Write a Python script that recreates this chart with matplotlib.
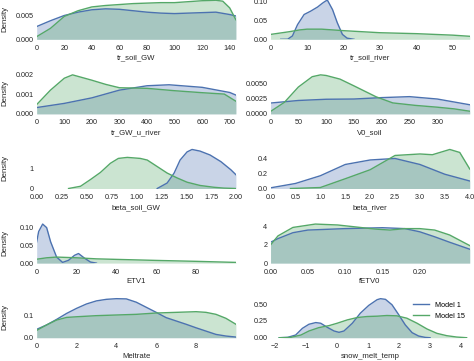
"""Kernel density comparison of calibrated parameters, Model 1 vs Model 15."""

import matplotlib
matplotlib.use("Agg")
import matplotlib.pyplot as plt
from matplotlib.ticker import FixedLocator

# ----------------------------------------------------------------------
# Data (densities)
# ----------------------------------------------------------------------

MODEL_LABELS = ["Model 1", "Model 15"]

# tr_soil_GW
tr_soil_gw_x1 = [0, 10, 20, 30, 40, 50, 60, 70, 80, 90, 100, 110, 120, 130, 140, 144.5]
tr_soil_gw_y1 = [0.00268, 0.0039, 0.0050, 0.0057, 0.0062, 0.0064, 0.0063, 0.0060,
                 0.0057, 0.0055, 0.0054, 0.0055, 0.0056, 0.0057, 0.0052, 0.0049]
tr_soil_gw_x2 = [0, 10, 20, 30, 40, 50, 60, 70, 80, 90, 100, 110, 120, 130, 135, 140, 144.5]
tr_soil_gw_y2 = [0.00056, 0.0023, 0.0048, 0.0060, 0.0068, 0.0071, 0.0073, 0.0075,
                 0.0076, 0.0077, 0.0077, 0.0079, 0.0081, 0.0082, 0.0080, 0.0066, 0.0041]

# tr_soil_river
tr_soil_river_x1 = [2.8, 4.7, 6.0, 7.4, 9.2, 11.0, 12.9, 14.2, 15.1, 15.6, 17.0, 18.3,
                    19.7, 21.0, 22.9]
tr_soil_river_y1 = [0.0, 0.0002, 0.009, 0.039, 0.066, 0.075, 0.086, 0.096, 0.102,
                    0.104, 0.079, 0.044, 0.013, 0.003, 0.0]
tr_soil_river_x2 = [0, 5, 8, 10, 14, 20, 30, 40, 50, 54.6]
tr_soil_river_y2 = [0.013, 0.020, 0.025, 0.027, 0.027, 0.023, 0.0175, 0.015, 0.011, 0.008]

# tr_GW_u_river
tr_gw_u_river_x1 = [0, 100, 200, 300, 400, 480, 600, 700, 722]
tr_gw_u_river_y1 = [0.00032, 0.00053, 0.00081, 0.0012, 0.00142, 0.00147, 0.00134,
                    0.00108, 0.00095]
tr_gw_u_river_x2 = [0, 50, 100, 130, 200, 250, 300, 400, 500, 600, 680, 722]
tr_gw_u_river_y2 = [0.00047, 0.0012, 0.0018, 0.00197, 0.0017, 0.00149, 0.00132,
                    0.00129, 0.00117, 0.00107, 0.0010, 0.00064]

# V0_soil
v0_soil_x1 = [0, 50, 100, 150, 200, 250, 300, 358.4]
v0_soil_y1 = [0.00178, 0.0022, 0.0024, 0.00244, 0.00267, 0.00283, 0.00244, 0.0015]
v0_soil_x2 = [0, 25, 50, 75, 90, 100, 125, 150, 190, 220, 260, 300, 330, 358.4]
v0_soil_y2 = [0.0004, 0.0019, 0.0044, 0.0061, 0.0064, 0.0063, 0.0057, 0.0046,
              0.0028, 0.0018, 0.0014, 0.0011, 0.00083, 0.00044]

# beta_soil_GW
beta_soil_gw_x1 = [1.21, 1.31, 1.38, 1.44, 1.51, 1.56, 1.64, 1.74, 1.85, 1.95, 2.0]
beta_soil_gw_y1 = [0.0, 0.27, 0.76, 1.4, 1.8, 1.92, 1.84, 1.65, 1.32, 0.92, 0.68]
beta_soil_gw_x2 = [0.32, 0.44, 0.54, 0.64, 0.74, 0.82, 0.91, 1.04, 1.11, 1.21, 1.31,
                   1.41, 1.51, 1.64, 1.78, 1.88, 2.0]
beta_soil_gw_y2 = [0.0, 0.11, 0.44, 0.79, 1.24, 1.48, 1.53, 1.48, 1.4, 1.08, 0.76,
                   0.52, 0.31, 0.15, 0.06, 0.02, 0.0]

# beta_river
beta_river_x1 = [0, 0.5, 1.0, 1.5, 2.0, 2.5, 3.0, 3.5, 4.0]
beta_river_y1 = [0.009, 0.067, 0.17, 0.32, 0.38, 0.40, 0.32, 0.19, 0.10]
beta_river_x2 = [0.4, 1.0, 1.5, 2.0, 2.5, 3.0, 3.25, 3.6, 3.8, 4.0]
beta_river_y2 = [0.0, 0.013, 0.13, 0.25, 0.44, 0.46, 0.45, 0.52, 0.48, 0.26]

# ETV1
etv1_x1 = [0, 1, 3, 5, 7, 10, 13, 16, 19, 21, 24, 27, 30]
etv1_y1 = [0.06, 0.089, 0.11, 0.10, 0.06, 0.017, 0.002, 0.008, 0.022, 0.027, 0.014,
           0.003, 0.0]
etv1_x2 = [0, 5, 10, 20, 30, 40, 60, 80, 100]
etv1_y2 = [0.011, 0.015, 0.017, 0.015, 0.012, 0.0105, 0.0076, 0.005, 0.002]

# fETV0
fetv0_x1 = [0, 0.01, 0.03, 0.05, 0.10, 0.15, 0.18, 0.20, 0.22, 0.24, 0.267]
fetv0_y1 = [2.3, 2.7, 3.35, 3.64, 3.8, 3.9, 3.8, 3.45, 2.9, 2.3, 1.53]
fetv0_x2 = [0, 0.01, 0.03, 0.06, 0.09, 0.12, 0.14, 0.16, 0.18, 0.20, 0.22, 0.24, 0.267]
fetv0_y2 = [2.0, 3.0, 3.93, 4.3, 4.2, 3.93, 3.75, 3.64, 3.8, 3.8, 3.64, 3.1, 1.93]

# Meltrate
meltrate_x1 = [0, 0.5, 1, 1.5, 2, 2.5, 3, 3.5, 4, 4.5, 5, 5.5, 6, 6.5, 7, 7.5, 8,
               8.5, 9, 9.5, 10]
meltrate_y1 = [0.038, 0.058, 0.083, 0.11, 0.133, 0.153, 0.167, 0.174, 0.177, 0.176,
               0.161, 0.138, 0.115, 0.091, 0.076, 0.061, 0.045, 0.030, 0.015,
               0.0076, 0.003]
meltrate_x2 = [0, 0.5, 1, 1.5, 2, 3, 4, 5, 6, 7, 8, 8.5, 9, 9.5, 10]
meltrate_y2 = [0.033, 0.058, 0.08, 0.092, 0.095, 0.10, 0.103, 0.106, 0.112, 0.115,
               0.118, 0.115, 0.106, 0.088, 0.061]

# snow_melt_temp
snow_melt_temp_x1 = [-1.87, -1.6, -1.34, -1.12, -0.91, -0.69, -0.53, -0.32, -0.1,
                     0.06, 0.22, 0.49, 0.75, 1.02, 1.29, 1.4, 1.56, 1.77, 1.99, 2.2,
                     2.42, 2.63, 2.84, 3.0]
snow_melt_temp_y1 = [0.0, 0.005, 0.04, 0.14, 0.2, 0.225, 0.215, 0.155, 0.1, 0.08,
                     0.1, 0.215, 0.365, 0.48, 0.565, 0.58, 0.57, 0.49, 0.34, 0.19,
                     0.075, 0.025, 0.005, 0.0]
snow_melt_temp_x2 = [-1.87, -1.5, -1.17, -0.91, -0.59, -0.26, 0.0, 0.33, 0.65, 0.97,
                     1.29, 1.61, 1.93, 2.25, 2.58, 2.9, 3.22, 3.54, 3.86, 4.18]
snow_melt_temp_y2 = [0.0, 0.005, 0.04, 0.1, 0.15, 0.18, 0.215, 0.265, 0.3, 0.315,
                     0.32, 0.33, 0.325, 0.29, 0.215, 0.13, 0.065, 0.03, 0.01, 0.0]

# panel table: (x label, model 1 curve, model 15 curve, x limits, x ticks, y ticks)
PANELS = [
    ("tr_soil_GW", (tr_soil_gw_x1, tr_soil_gw_y1), (tr_soil_gw_x2, tr_soil_gw_y2),
     (0, 144.5), [0, 20, 40, 60, 80, 100, 120, 140], [0, 0.005]),
    ("tr_soil_river", (tr_soil_river_x1, tr_soil_river_y1),
     (tr_soil_river_x2, tr_soil_river_y2),
     (0, 54.6), [0, 10, 20, 30, 40, 50], [0, 0.05, 0.10]),
    ("tr_GW_u_river", (tr_gw_u_river_x1, tr_gw_u_river_y1),
     (tr_gw_u_river_x2, tr_gw_u_river_y2),
     (0, 722), [0, 100, 200, 300, 400, 500, 600, 700], [0, 0.001, 0.002]),
    ("V0_soil", (v0_soil_x1, v0_soil_y1), (v0_soil_x2, v0_soil_y2),
     (0, 358.4), [0, 50, 100, 150, 200, 250, 300], [0, 0.0025, 0.005]),
    ("beta_soil_GW", (beta_soil_gw_x1, beta_soil_gw_y1),
     (beta_soil_gw_x2, beta_soil_gw_y2),
     (0, 2.0), [0, 0.25, 0.5, 0.75, 1.0, 1.25, 1.5, 1.75, 2.0], [0, 1]),
    ("beta_river", (beta_river_x1, beta_river_y1), (beta_river_x2, beta_river_y2),
     (0, 4.0), [0, 0.5, 1.0, 1.5, 2.0, 2.5, 3.0, 3.5, 4.0], [0, 0.2, 0.4]),
    ("ETV1", (etv1_x1, etv1_y1), (etv1_x2, etv1_y2),
     (0, 100), [0, 20, 40, 60, 80], [0, 0.05, 0.10]),
    ("fETV0", (fetv0_x1, fetv0_y1), (fetv0_x2, fetv0_y2),
     (0, 0.267), [0, 0.05, 0.10, 0.15, 0.20], [0, 2, 4]),
    ("Meltrate", (meltrate_x1, meltrate_y1), (meltrate_x2, meltrate_y2),
     (0, 10), [0, 2, 4, 6, 8], [0, 0.1]),
    ("snow_melt_temp", (snow_melt_temp_x1, snow_melt_temp_y1),
     (snow_melt_temp_x2, snow_melt_temp_y2),
     (-2.15, 4.28), [-2, -1, 0, 1, 2, 3, 4], [0, 0.25, 0.5]),
]

# ----------------------------------------------------------------------
# Style
# ----------------------------------------------------------------------

COLORS = ["#4C72B0", "#55A868"]
TEXT_COLOR = "#262626"
FILL_ALPHA = 0.3

plt.rcParams["font.family"] = ["Liberation Sans", "DejaVu Sans"]
plt.rcParams["axes.unicode_minus"] = True

# ----------------------------------------------------------------------
# Plot
# ----------------------------------------------------------------------

fig, axs = plt.subplots(5, 2, figsize=(4.74, 3.61), dpi=100)
fig.subplots_adjust(left=0.0774, right=0.991, bottom=0.0645, top=1.0047,
                    wspace=0.174, hspace=0.82)

for ax, (label, curve1, curve2, xlim, xticks, yticks) in zip(axs.flat, PANELS):
    ymax = 0
    for (xs, ys), color, name in zip((curve1, curve2), COLORS, MODEL_LABELS):
        ax.fill_between(xs, ys, 0, color=color, alpha=FILL_ALPHA, linewidth=0)
        ax.plot(xs, ys, color=color, linewidth=1.0, label=name)
        ymax = max(ymax, max(ys))
    ax.set_xlim(*xlim)
    ax.set_ylim(0, ymax * 1.05)
    ax.xaxis.set_major_locator(FixedLocator(xticks))
    ax.yaxis.set_major_locator(FixedLocator(yticks))
    ax.set_xlabel(label, fontsize=5.6, color=TEXT_COLOR, labelpad=2.0)
    ax.tick_params(axis="both", length=0, labelsize=5.2, labelcolor=TEXT_COLOR)
    ax.tick_params(axis="x", pad=4.0)
    ax.tick_params(axis="y", pad=2.2)
    for spine in ax.spines.values():
        spine.set_visible(False)

for ax in axs[:, 0]:
    ax.set_ylabel("Density", fontsize=5.6, color=TEXT_COLOR)
    ax.yaxis.set_label_coords(-0.142, 0.5)

axs[4, 1].legend(loc="upper right", frameon=False, fontsize=5.2,
                 handlelength=2.2, borderaxespad=0.3, labelspacing=0.5)

fig.savefig("out.png", dpi=100)
